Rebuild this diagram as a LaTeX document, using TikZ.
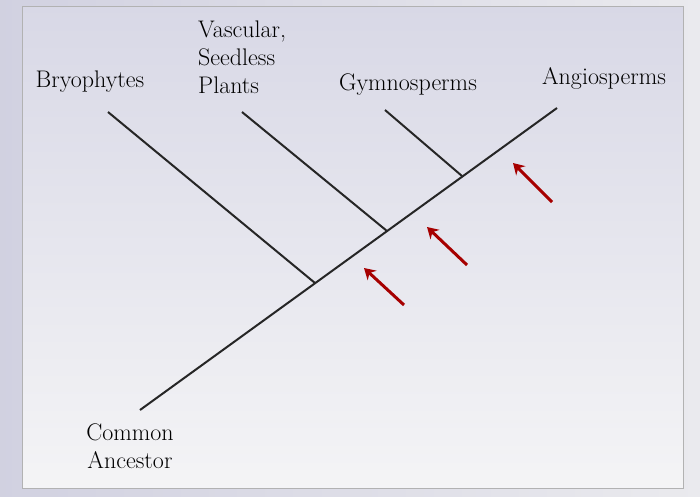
\documentclass[tikz,border=0pt]{standalone}
\usetikzlibrary{arrows.meta}
\begin{document}
\begin{tikzpicture}[x=1pt,y=-1pt,
  lbl/.style={font=\fontsize{24}{28}\selectfont, inner sep=0pt, text=black},
  br/.style={line width=2pt, black!85},
  arr/.style={line width=3pt, red!65!black, -{Stealth[length=11pt,width=13pt]}}]
\fill[left color=blue!20!gray!30, right color=blue!10!gray!15] (0,0) rectangle (700,496);
\fill[top color=blue!22!gray!25, bottom color=blue!8!gray!8] (22,6) rectangle (683,488);
\draw[gray!60, line width=1pt] (22,6) rectangle (683,488);
\coordinate (root) at (140,410);
\coordinate (top) at (557,108);
\coordinate (b1) at (315,283);
\coordinate (b2) at (387,231);
\coordinate (b3) at (462,176);
\coordinate (e1) at (108,112);
\coordinate (e2) at (242,112);
\coordinate (e3) at (385,110);
\draw[br] (root) -- (top);
\draw[br] (e1) -- (b1);
\draw[br] (e2) -- (b2);
\draw[br] (e3) -- (b3);
\coordinate (a1s) at (404,305); \coordinate (a1e) at (364,268);
\coordinate (a2s) at (467,265); \coordinate (a2e) at (427,227);
\coordinate (a3s) at (552,202); \coordinate (a3e) at (513,163);
\draw[arr] (a1s) -- (a1e);
\draw[arr] (a2s) -- (a2e);
\draw[arr] (a3s) -- (a3e);
\node[lbl] (bry) at (90,82) {Bryophytes};
\node[lbl, anchor=west, align=left] (vas) at (198,57) {Vascular,\\Seedless\\Plants};
\node[lbl] (gym) at (408,85) {Gymnosperms};
\node[lbl] (ang) at (604,78) {Angiosperms};
\node[lbl, align=center] (ca) at (130,446) {Common\\Ancestor};
\end{tikzpicture}
\end{document}
